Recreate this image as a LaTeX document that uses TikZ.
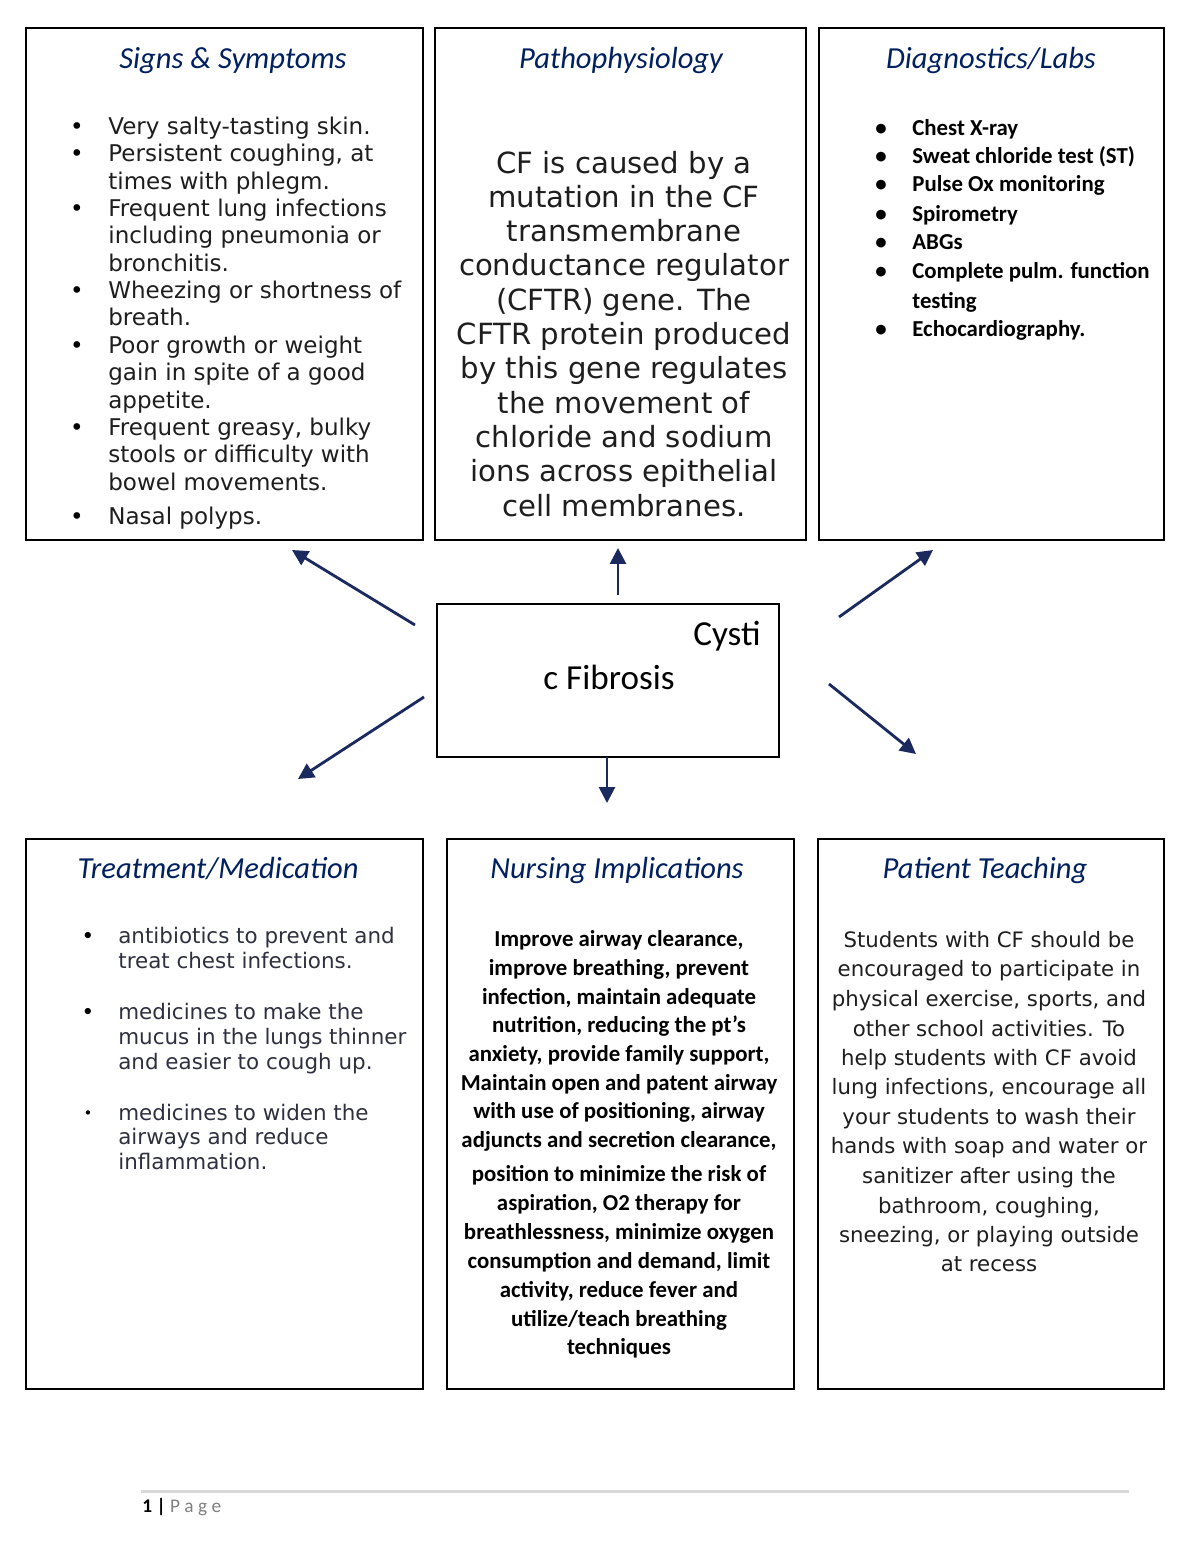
\documentclass[tikz,border=0pt]{standalone}
\usepackage{fontspec}
\setmainfont{DejaVu Sans}
\newfontfamily\calfont{Carlito}
\usetikzlibrary{arrows.meta}
\definecolor{navy}{HTML}{002060}
\definecolor{arrowc}{HTML}{1B2A5E}
\definecolor{txtdark}{HTML}{1E1E1E}
\definecolor{txtslate}{HTML}{2E3040}
\begin{document}
\begin{tikzpicture}[x=0.02cm,y=-0.02cm,
  panel/.style={draw=black, line width=1.4pt, inner sep=0pt, anchor=north west},
  ttl/.style={font=\calfont\itshape\fontsize{17.4}{20}\selectfont, text=navy, inner sep=0pt, anchor=base},
  arr/.style={draw=arrowc, line width=1.6pt, -{Triangle[length=9pt,width=9pt]}},
  symtxt/.style={font=\fontsize{13.1}{15.5}\selectfont, text=txtdark, inner sep=0pt, anchor=base west},
  symbul/.style={font=\fontsize{13.1}{15.5}\selectfont, text=black, inner sep=0pt, anchor=base},
  pathtxt/.style={font=\fontsize{16.6}{19.4}\selectfont, text=txtdark, inner sep=0pt, anchor=base},
  diagtxt/.style={font=\calfont\bfseries\fontsize{13}{16}\selectfont, text=black, inner sep=0pt, anchor=base west},
  diagbul/.style={font=\calfont\bfseries\fontsize{13}{16}\selectfont, text=black, inner sep=0pt, anchor=base},
  trttxt/.style={font=\fontsize{12.2}{14.2}\selectfont, text=txtslate, inner sep=0pt, anchor=base west},
  trtbul/.style={font=\fontsize{12.2}{14.2}\selectfont, text=black, inner sep=0pt, anchor=base},
  nurstxt/.style={font=\calfont\bfseries\fontsize{13}{16}\selectfont, text=black, inner sep=0pt, anchor=base},
  teachtxt/.style={font=\fontsize{12.1}{16}\selectfont, text=txtdark, inner sep=0pt, anchor=base},
]
\useasboundingbox (0,0) rectangle (1200,1553);
\fill[white] (0,0) rectangle (1200,1553);

% ---------- panels ----------
\node[panel, minimum width=7.94cm, minimum height=10.24cm] (b1) at (25,27) {};
\node[panel, minimum width=7.42cm, minimum height=10.24cm] (b2) at (434,27) {};
\node[panel, minimum width=6.90cm, minimum height=10.24cm] (b3) at (818,27) {};
\node[panel, line width=1.2pt, minimum width=6.84cm, minimum height=3.06cm] (cf) at (436,603) {};
\node[panel, minimum width=7.94cm, minimum height=11.0cm] (b4) at (25,838) {};
\node[panel, minimum width=6.94cm, minimum height=11.0cm] (b5) at (446,838) {};
\node[panel, minimum width=6.92cm, minimum height=11.0cm] (b6) at (817,838) {};

% ---------- titles ----------
\node[ttl] (t1) at (233,68) {Signs \& Symptoms};
\node[ttl] (t2) at (621,68) {Pathophysiology};
\node[ttl] (t3) at (991,68) {Diagnostics/Labs};
\node[ttl] (t4) at (218,878) {Treatment/Medication};
\node[ttl] (t5) at (617,878) {Nursing Implications};
\node[ttl] (t6) at (985,878) {Patient Teaching};

% ---------- signs & symptoms ----------
\foreach \yy/\txt in {134/{Very salty-tasting skin.},161/{Persistent coughing, at},189/{times with phlegm.},
  216/{Frequent lung infections},243/{including pneumonia or},271/{bronchitis.},
  298/{Wheezing or shortness of},325/{breath.},353/{Poor growth or weight},
  380/{gain in spite of a good},408/{appetite.},435/{Frequent greasy, bulky},
  462/{stools or difficulty with},490/{bowel movements.},524/{Nasal polyps.}}
  \node[symtxt] (s\yy) at (108,\yy) {\txt};
\foreach \yy in {134,161,216,298,353,435,524}
  \node[symbul] (sb\yy) at (77,\yy) {•};

% ---------- pathophysiology ----------
\foreach \yy/\txt in {173/{CF is caused by a},207.3/{mutation in the CF},241.6/{transmembrane},
  275.9/{conductance regulator},310.2/{(CFTR) gene. The},344.5/{CFTR protein produced},
  378.8/{by this gene regulates},413.1/{the movement of},447.4/{chloride and sodium},
  481.7/{ions across epithelial},516/{cell membranes.}}
  \node[pathtxt] (p\yy) at (624,\yy) {\txt};

% ---------- diagnostics ----------
\foreach \yy/\txt in {135/{Chest X-ray},163/{Sweat chloride test (ST)},191/{Pulse Ox monitoring},
  221/{Spirometry},249/{ABGs},278/{Complete pulm. function},308/{testing},336/{Echocardiography.}}
  \node[diagtxt] (d\yy) at (912,\yy) {\txt};
\foreach \yy in {135,163,191,221,249,278,336}
  \node[diagbul] (db\yy) at (881,\yy) {•};

% ---------- treatment ----------
\foreach \yy/\txt in {943/{antibiotics to prevent and},968/{treat chest infections.},
  1019/{medicines to make the},1044/{mucus in the lungs thinner},1069/{and easier to cough up.},
  1120/{medicines to widen the},1144/{airways and reduce},1169/{inflammation.}}
  \node[trttxt] (r\yy) at (118,\yy) {\txt};
\node[trtbul] (rb1) at (88,943) {•};
\node[trtbul] (rb2) at (88,1019) {•};
\node[trtbul, scale=0.7] (rb3) at (88,1118) {•};

% ---------- nursing ----------
\foreach \yy/\txt in {946/{Improve airway clearance,},975/{improve breathing, prevent},
  1004/{infection, maintain adequate},1032/{nutrition, reducing the pt’s},
  1061/{anxiety, provide family support,},1090/{Maintain open and patent airway},
  1118/{with use of positioning, airway},1147/{adjuncts and secretion clearance,},
  1181/{position to minimize the risk of},1210/{aspiration, O2 therapy for},
  1239/{breathlessness, minimize oxygen},1268/{consumption and demand, limit},
  1297/{activity, reduce fever and},1326/{utilize/teach breathing},1354/{techniques}}
  \node[nurstxt] (n\yy) at (619,\yy) {\txt};

% ---------- patient teaching ----------
\foreach \yy/\txt in {947/{Students with CF should be},976/{encouraged to participate in},
  1006/{physical exercise, sports, and},1036/{other school activities. To},
  1065/{help students with CF avoid},1094/{lung infections, encourage all},
  1124/{your students to wash their},1153/{hands with soap and water or},
  1183/{sanitizer after using the},1213/{bathroom, coughing,},
  1242/{sneezing, or playing outside},1271/{at recess}}
  \node[teachtxt] (e\yy) at (989,\yy) {\txt};

% ---------- center ----------
\node[font=\calfont\fontsize{20}{24}\selectfont, inner sep=0pt, anchor=base east] (cf1) at (761,645) {Cysti};
\node[font=\calfont\fontsize{20}{24}\selectfont, inner sep=0pt, anchor=base] (cf2) at (609,689) {c Fibrosis};

% ---------- arrows ----------
\coordinate (a1s) at (415,625); \coordinate (a1e) at (292,550);
\coordinate (a2s) at (618,595); \coordinate (a2e) at (618,548);
\coordinate (a3s) at (839,617); \coordinate (a3e) at (933,550);
\coordinate (a4s) at (424,697); \coordinate (a4e) at (298,779);
\coordinate (a5s) at (607,757); \coordinate (a5e) at (607,803);
\coordinate (a6s) at (829,684); \coordinate (a6e) at (916,754);
\draw[arr] (a1s) -- (a1e);
\draw[arr] (a2s) -- (a2e);
\draw[arr] (a3s) -- (a3e);
\draw[arr] (a4s) -- (a4e);
\draw[arr] (a5s) -- (a5e);
\draw[arr] (a6s) -- (a6e);

% ---------- footer ----------
\coordinate (fl1) at (141,1491); \coordinate (fl2) at (1129,1491);
\draw[black!15, line width=1.7pt] (fl1) -- (fl2);
\node[font=\calfont\fontsize{11}{13}\selectfont, inner sep=0pt, anchor=base west] (pg) at (142,1512)
  {\textbf{1} \textbf{|} \textcolor{black!50}{P a g e}};
\end{tikzpicture}
\end{document}
